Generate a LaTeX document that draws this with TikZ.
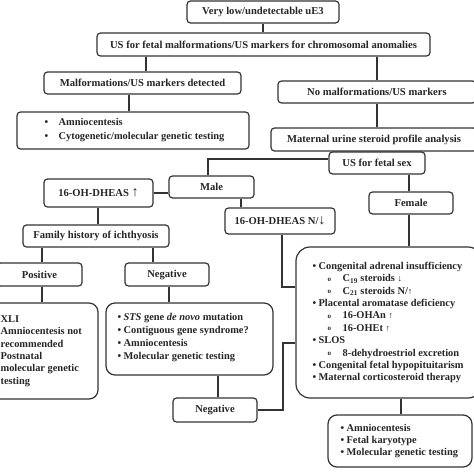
\documentclass[tikz,border=0pt]{standalone}
\usepackage{fontspec}
\setmainfont{Liberation Serif}
\newcommand\bitem[1][6pt]{\makebox[#1][l]{•}}
\newcommand\sitem{\hspace*{15pt}\makebox[15pt][l]{\raisebox{0.5pt}{\fontsize{7}{7}\selectfont o}}}
\begin{document}
\begin{tikzpicture}[x=1pt,y=-1pt,
  box/.style={draw=linec, line width=1.2pt, rounded corners=3.5pt, fill=white, inner sep=0pt,
    font=\bfseries\fontsize{10.6}{12.4}\selectfont, text=txtc},
  bigbox/.style={box, rounded corners=14pt},
  midbox/.style={box, rounded corners=9pt},
  listtext/.style={inner sep=0pt, align=left, font=\bfseries\fontsize{10.4}{12.4}\selectfont, text=txtc},
  conn/.style={draw=linec, line width=1.2pt}]
\definecolor{linec}{HTML}{333333}
\definecolor{txtc}{HTML}{262626}
\useasboundingbox (0,0) rectangle (474,474);
\fill[white] (0,0) rectangle (474,474);
\begin{scope}
\clip (0,0) rectangle (474,474);
% boxes
\node[box, minimum width=152pt, minimum height=22pt] (top) at (263,12) {Very low/undetectable uE3};
\node[box, minimum width=333pt, minimum height=23pt] (us) at (263.5,44.5) {US for fetal malformations/US markers for chromosomal anomalies};
\node[box, minimum width=197pt, minimum height=22pt] (malf) at (142.5,83) {Malformations/US markers detected};
\node[box, minimum width=198pt, minimum height=22pt] (nomalf) at (377,92) {No malformations/US markers};
\node[box, minimum width=232pt, minimum height=37pt] (amnio) at (133,130.5) {};
\node[listtext, anchor=west, font=\bfseries\fontsize{10.4}{14}\selectfont] (amniotext) at ([xshift=28pt]amnio.west) {\bitem[14pt]Amniocentesis\\ \bitem[14pt]Cytogenetic/molecular genetic testing};
\node[box, minimum width=206pt, minimum height=23pt] (maternal) at (374,139.5) {Maternal urine steroid profile analysis};
\node[box, minimum width=96pt, minimum height=22pt] (ussex) at (377,163) {US for fetal sex};
\node[box, minimum width=85pt, minimum height=22pt] (male) at (211.5,187) {Male};
\node[box, minimum width=109pt, minimum height=28pt] (dheasup) at (98.5,193) {16-OH-DHEAS {\fontsize{14}{14}\selectfont\raisebox{-0.5pt}{↑}}};
\node[box, minimum width=110pt, minimum height=26pt] (nd) at (280,221) {16-OH-DHEAS N/{\fontsize{14}{14}\selectfont\raisebox{-0.5pt}{↓}}};
\node[box, minimum width=84pt, minimum height=22pt] (female) at (411,203) {Female};
\node[box, minimum width=146pt, minimum height=22pt] (family) at (96,236) {Family history of ichthyosis};
\node[box, minimum width=85pt, minimum height=23pt] (pos) at (39.5,274.5) {Positive};
\node[box, minimum width=84pt, minimum height=23pt] (neg) at (167,274.5) {Negative};
\node[midbox, minimum width=122pt, minimum height=96pt] (kli) at (37,351) {};
\node[listtext, anchor=west] (klitext) at ([xshift=25pt]kli.west) {XLI\\ Amniocentesis not\\ recommended\\ Postnatal\\ molecular genetic\\ testing};
\node[midbox, minimum width=167pt, minimum height=72pt] (sts) at (189.5,339) {};
\node[listtext, anchor=west, font=\bfseries\fontsize{10.4}{13.3}\selectfont] (ststext) at ([xshift=12pt,yshift=1.5pt]sts.west) {\bitem\textit{STS} gene \textit{de novo} mutation\\ \bitem Contiguous gene syndrome?\\ \bitem Amniocentesis\\ \bitem Molecular genetic testing};
\node[box, minimum width=84pt, minimum height=24pt] (neg2) at (215,410) {Negative};
\node[bigbox, minimum width=186pt, minimum height=151pt] (big) at (389,322.5) {};
\node[listtext, anchor=west] (bigtext) at ([xshift=17pt]big.west) {\bitem Congenital adrenal insufficiency\\
 \sitem C\textsubscript{19} steroids {\small ↓}\\
 \sitem C\textsubscript{21} steroids N/{\small ↑}\\
 \bitem Placental aromatase deficiency\\
 \sitem 16-OHAn {\small ↑}\\
 \sitem 16-OHEt {\small ↑}\\
 \bitem SLOS\\
 \sitem 8-dehydroestriol excretion\\
 \bitem Congenital fetal hypopituitarism\\
 \bitem Maternal corticosteroid therapy};
\node[midbox, minimum width=144pt, minimum height=52pt] (bottom) at (400,441) {};
\node[listtext, anchor=west] (bottomtext) at ([xshift=13pt]bottom.west) {\bitem Amniocentesis\\ \bitem Fetal karyotype\\ \bitem Molecular genetic testing};
% helper coordinates
\coordinate (c146) at (146,0);
\coordinate (c377) at (377,0);
\coordinate (c129) at (129,0);
\coordinate (c208) at (208,0);
\coordinate (c409) at (409,0);
\coordinate (c241) at (241,0);
\coordinate (c282) at (282,0);
\coordinate (c287) at (0,287);
\coordinate (c98) at (98,0);
\coordinate (c42) at (42,0);
\coordinate (c153) at (153,0);
\coordinate (c169) at (169,0);
\coordinate (c218) at (218,0);
\coordinate (c401) at (401,0);
\coordinate (k1) at (283,343);
% connectors
\draw[conn] (top.south) -- (top.south |- us.north);
\draw[conn] (us.south -| c146) -- (malf.north -| c146);
\draw[conn] (us.south -| c377) -- (nomalf.north -| c377);
\draw[conn] (malf.south -| c129) -- (amnio.north -| c129);
\draw[conn] (nomalf.south -| c377) -- (maternal.north -| c377);
\draw[conn] ([yshift=4pt]ussex.west) -| (male.north -| c208);
\draw[conn] (ussex.south -| c409) -- (female.north -| c409);
\draw[conn] (female.south -| c409) -- (big.north -| c409);
\draw[conn] (dheasup.east) -- (dheasup.east -| male.west);
\draw[conn] (male.south -| c241) -- (nd.north -| c241);
\draw[conn] (nd.south -| c282) |- (c287 -| big.west);
\draw[conn] (dheasup.south -| c98) -- (family.north -| c98);
\draw[conn] (family.south -| c42) -- (pos.north -| c42);
\draw[conn] (family.south -| c153) -- (neg.north -| c153);
\draw[conn] (pos.south -| c42) -- (kli.north -| c42);
\draw[conn] (neg.south -| c169) -- (sts.north -| c169);
\draw[conn] (sts.south -| c218) -- (neg2.north -| c218);
\draw[conn] (neg2.east) -| (k1) -- (k1 -| big.west);
\draw[conn] (big.south -| c401) -- (bottom.north -| c401);
\end{scope}
\end{tikzpicture}
\end{document}
